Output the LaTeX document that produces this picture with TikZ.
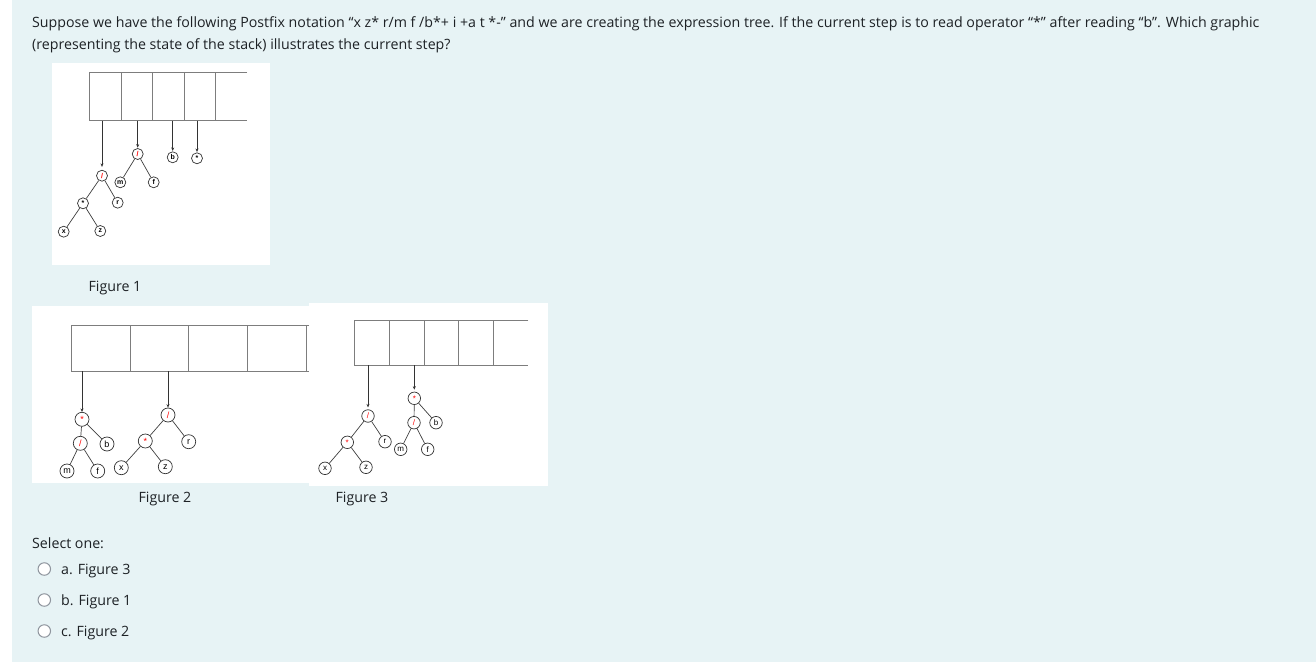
\documentclass[tikz,border=0pt]{standalone}
\usepackage{fontspec}
\setmainfont{Open Sans}
\setsansfont{Liberation Sans}
\usetikzlibrary{arrows.meta}
\definecolor{bg}{RGB}{231,243,245}
\definecolor{txtc}{RGB}{29,33,37}
\definecolor{arrc}{RGB}{125,125,125}
\definecolor{radc}{RGB}{143,149,158}
\begin{document}
\begin{tikzpicture}[x=1pt,y=-1pt,
  txt/.style={inner sep=0pt, text=txtc, font=\fontsize{14.2}{17}\selectfont},
  tn/.style={circle, draw=black!80, line width=0.7pt, fill=white, inner sep=0pt, text=black},
  tnA/.style={tn, minimum size=11pt, font=\sffamily\bfseries\fontsize{7}{7}\selectfont},
  tnB/.style={tn, minimum size=14pt, font=\sffamily\fontsize{9}{9}\selectfont},
  tnC/.style={tn, minimum size=12.5pt, font=\sffamily\fontsize{8}{8}\selectfont},
  op/.style={text=red},
  edge/.style={draw=black!75, line width=0.7pt},
  arr/.style={draw=black!80, line width=0.7pt, -{Stealth[length=3.5pt,width=3pt]}},
  grid/.style={draw=arrc, line width=1pt},
  radio/.style={circle, draw=radc, line width=1pt, fill=white, minimum size=12.5pt, inner sep=0pt}
]
\useasboundingbox (0,0) rectangle (1316,671);
\fill[bg] (12,0) rectangle (1316,662);
\fill[white] (52,63) rectangle (270,265);
\fill[white] (32,306) rectangle (309,483);
\fill[white] (309,303) rectangle (548,486);

% question text
\node[txt, anchor=base west] (q1) at (32,28) {Suppose we have the following Postfix notation “x z* r/m f /b*+ i +a t *-” and we are creating the expression tree. If the current step is to read operator “*” after reading “b”. Which graphic};
\node[txt, anchor=base west] (q2) at (32,50) {(representing the state of the stack) illustrates the current step?};

% ---------------- Figure 1 ----------------
\draw[grid] (247,73) -- (89.3,73) -- (89.3,120.7) -- (247,120.7);
\foreach \xx in {121.3,152.7,184,215.3} \draw[grid] (\xx,73) -- (\xx,120.7);
\coordinate (a1) at (102,120.7);
\coordinate (a2) at (137.7,120.7);
\coordinate (a3) at (172.7,120.7);
\coordinate (a4) at (197,120.7);
\node[tnA,op] (f1r) at (102,175.7) {/};
\node[tnA] (f1s) at (83,203.3) {*};
\node[tnA] (f1q) at (117.7,202.7) {r};
\node[tnA] (f1x) at (63.7,231.7) {x};
\node[tnA] (f1z) at (100.3,231) {z};
\node[tnA,op] (f1d) at (137.7,154) {/};
\node[tnA] (f1m) at (120.3,182.3) {m};
\node[tnA] (f1f) at (153.7,182.3) {f};
\node[tnA] (f1b) at (172.7,157.3) {b};
\node[tnA] (f1t) at (197,158.3) {*};
\draw[edge] (f1r) -- (f1s); \draw[edge] (f1r) -- (f1q);
\draw[edge] (f1s) -- (f1x); \draw[edge] (f1s) -- (f1z);
\draw[edge] (f1d) -- (f1m); \draw[edge] (f1d) -- (f1f);
\draw[arr, shorten >=3pt] (a1) -- (f1r);
\draw[arr, shorten >=0.5pt] (a2) -- (f1d);
\draw[arr, shorten >=0.5pt] (a3) -- (f1b);
\draw[arr, shorten >=0.5pt] (a4) -- (f1t);
\node[txt, anchor=base] (lab1) at (115,291) {Figure 1};

% ---------------- Figure 2 ----------------
\draw[grid] (309,325.7) -- (71.3,325.7) -- (71.3,371) -- (309,371);
\foreach \xx in {130.3,188.7,247,306.5} \draw[grid] (\xx,325.7) -- (\xx,371);
\coordinate (b1) at (82,371);
\coordinate (b2) at (168,371);
\node[tnB,op] (g1) at (82,419.3) {*};
\node[tnB,op] (g2) at (80.3,443.3) {/};
\node[tnB] (g3) at (107,444) {b};
\node[tnB] (g4) at (67,471) {m};
\node[tnB] (g5) at (97.7,471) {f};
\node[tnB,op] (h1) at (168,415) {/};
\node[tnB,op] (h2) at (145.3,441) {*};
\node[tnB] (h3) at (188.7,441.7) {r};
\node[tnB] (h4) at (121.3,467.7) {x};
\node[tnB] (h5) at (165.3,466.7) {z};
\draw[edge] (g1) -- (g2); \draw[edge] (g1) -- (g3);
\draw[edge] (g2) -- (g4); \draw[edge] (g2) -- (g5);
\draw[edge] (h1) -- (h2); \draw[edge] (h1) -- (h3);
\draw[edge] (h2) -- (h4); \draw[edge] (h2) -- (h5);
\draw[arr] (b1) -- (g1);
\draw[arr] (b2) -- (h1);
\node[txt, anchor=base] (lab2) at (165,502) {Figure 2};

% ---------------- Figure 3 ----------------
\draw[grid] (528.3,320.3) -- (354,320.3) -- (354,365.3) -- (528.3,365.3);
\foreach \xx in {389,424,458.7,493.3} \draw[grid] (\xx,320.3) -- (\xx,365.3);
\coordinate (c1) at (368,365.3);
\coordinate (c2) at (414.3,365.3);
\node[tnC,op] (k1) at (368,416) {/};
\node[tnC,op] (k2) at (347.3,442.3) {*};
\node[tnC] (k3) at (385,441.7) {r};
\node[tnC] (k4) at (325,468.3) {x};
\node[tnC] (k5) at (366,467.3) {z};
\node[tnC,op] (l1) at (414.3,398.3) {*};
\node[tnC,op] (l2) at (414,422.7) {/};
\node[tnC] (l3) at (436,422.7) {b};
\node[tnC] (l4) at (400.7,449.3) {m};
\node[tnC] (l5) at (427.7,449.3) {f};
\draw[edge] (k1) -- (k2); \draw[edge] (k1) -- (k3);
\draw[edge] (k2) -- (k4); \draw[edge] (k2) -- (k5);
\draw[edge] (l1) -- (l2); \draw[edge] (l1) -- (l3);
\draw[edge] (l2) -- (l4); \draw[edge] (l2) -- (l5);
\draw[arr, shorten >=2pt] (c1) -- (k1);
\draw[arr, shorten >=2pt] (c2) -- (l1);
\node[txt, anchor=base] (lab3) at (362,502) {Figure 3};

% ---------------- answers ----------------
\node[txt, anchor=base west] (sel) at (32,548) {Select one:};
\node[radio] (ra) at (44.3,569) {};
\node[radio] (rb) at (44.3,600) {};
\node[radio] (rc) at (44.3,631) {};
\node[txt, anchor=base west] (oa) at (61,574.5) {a. Figure 3};
\node[txt, anchor=base west] (ob) at (61,605.5) {b. Figure 1};
\node[txt, anchor=base west] (oc) at (61,636.5) {c. Figure 2};
\end{tikzpicture}
\end{document}
